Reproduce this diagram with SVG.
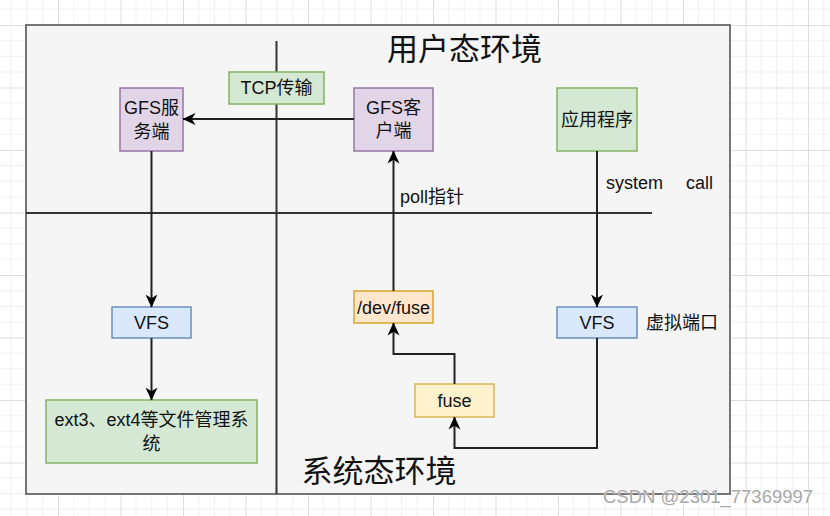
<svg xmlns="http://www.w3.org/2000/svg" width="830" height="516" viewBox="0 0 830 516">
<defs>
<pattern id="grid" x="-4.5" y="25" width="62.5" height="62.5" patternUnits="userSpaceOnUse">
<path d="M15.625,0V62.5M31.25,0V62.5M46.875,0V62.5M0,15.625H62.5M0,31.25H62.5M0,46.875H62.5" stroke="#efefef" stroke-width="1" fill="none"/>
<path d="M0.5,0V62.5M0,0.5H62.5" stroke="#dedede" stroke-width="1" fill="none"/>
</pattern>
<marker id="arr" viewBox="0 0 13 13" markerWidth="13" markerHeight="13" refX="12.5" refY="6.5" orient="auto" markerUnits="userSpaceOnUse">
<path d="M0,0.5 L13,6.5 L0,12.5 L3.8,6.5 Z" fill="#000"/>
</marker>
</defs>
<style>
text{font-family:"Liberation Sans","Noto Sans CJK SC",sans-serif;fill:#111;}
.t{font-size:18px;text-anchor:middle;dominant-baseline:central;}
.l{font-size:18px;}
.h{font-size:31px;text-anchor:middle;dominant-baseline:central;}
.purple{fill:#e1d5e7;stroke:#9673a6;stroke-width:1.5;}
.green{fill:#d5e8d4;stroke:#82b366;stroke-width:1.5;}
.blue{fill:#dae8fc;stroke:#6c8ebf;stroke-width:1.5;}
.orange{fill:#ffe6cc;stroke:#d6a62a;stroke-width:1.5;}
.yellow{fill:#fff2cc;stroke:#d6b656;stroke-width:1.5;}
.c{fill:none;stroke:#222;stroke-width:2;}
.div{fill:none;stroke:#333;stroke-width:2;}
</style>
<rect width="830" height="516" fill="#fff"/>
<rect width="830" height="516" fill="url(#grid)"/>
<g id="container">
<rect x="26" y="25" width="704" height="469" fill="#f5f5f5" stroke="#666" stroke-width="1.8"/>
<text class="h" x="464.5" y="49">用户态环境</text>
<text class="h" x="379" y="471">系统态环境</text>
</g>
<g id="dividers">
<path class="div" d="M26,213H652"/>
<path class="div" d="M276.5,41V494"/>
</g>
<g id="tcp">
<rect class="green" x="229" y="72" width="95" height="32"/>
<text class="t" x="276.5" y="88">TCP传输</text>
</g>
<g id="gfs-server">
<rect class="purple" x="120" y="88" width="63" height="63"/>
<text class="t" x="151.5" y="108">GFS服</text>
<text class="t" x="151.5" y="131.5">务端</text>
</g>
<g id="gfs-client">
<rect class="purple" x="354" y="88" width="79" height="63"/>
<text class="t" x="393.5" y="107.5">GFS客</text>
<text class="t" x="393.5" y="131">户端</text>
</g>
<g id="app">
<rect class="green" x="557" y="88" width="80" height="63"/>
<text class="t" x="597" y="120">应用程序</text>
</g>
<g id="vfs-left">
<rect class="blue" x="112" y="307" width="79" height="31"/>
<text class="t" x="151.5" y="322.5">VFS</text>
</g>
<g id="ext">
<rect class="green" x="46" y="400" width="211" height="63"/>
<text class="t" x="151.5" y="420">ext3、ext4等文件管理系</text>
<text class="t" x="151.5" y="444">统</text>
</g>
<g id="dev-fuse">
<rect class="orange" x="354" y="291" width="79" height="32"/>
<text class="t" x="393.5" y="307.5">/dev/fuse</text>
</g>
<g id="fuse">
<rect class="yellow" x="415" y="384" width="79" height="33"/>
<text class="t" x="454.5" y="400.5">fuse</text>
</g>
<g id="vfs-right">
<rect class="blue" x="557" y="307" width="80" height="31"/>
<text class="t" x="597" y="322.5">VFS</text>
</g>
<g id="connectors">
<path class="c" d="M354,119H183" marker-end="url(#arr)"/>
<path class="c" d="M151.5,151V307" marker-end="url(#arr)"/>
<path class="c" d="M151.5,338V400" marker-end="url(#arr)"/>
<path class="c" d="M597,151V307" marker-end="url(#arr)"/>
<path class="c" d="M393.5,291V151" marker-end="url(#arr)"/>
<path class="c" d="M454.5,384V354H393.5V323" marker-end="url(#arr)"/>
<path class="c" d="M597,338V448H454.5V417" marker-end="url(#arr)"/>
</g>
<g id="labels">
<text class="l" y="189"><tspan x="606">system</tspan><tspan x="686">call</tspan></text>
<text class="l" x="400" y="203">poll指针</text>
<text class="l" x="646" y="328.5">虚拟端口</text>
</g>
<text x="603" y="503" font-size="18.5" style="fill:#a8a8a8;stroke:#fff;stroke-width:0.6;paint-order:stroke">CSDN @2301_77369997</text>
</svg>
